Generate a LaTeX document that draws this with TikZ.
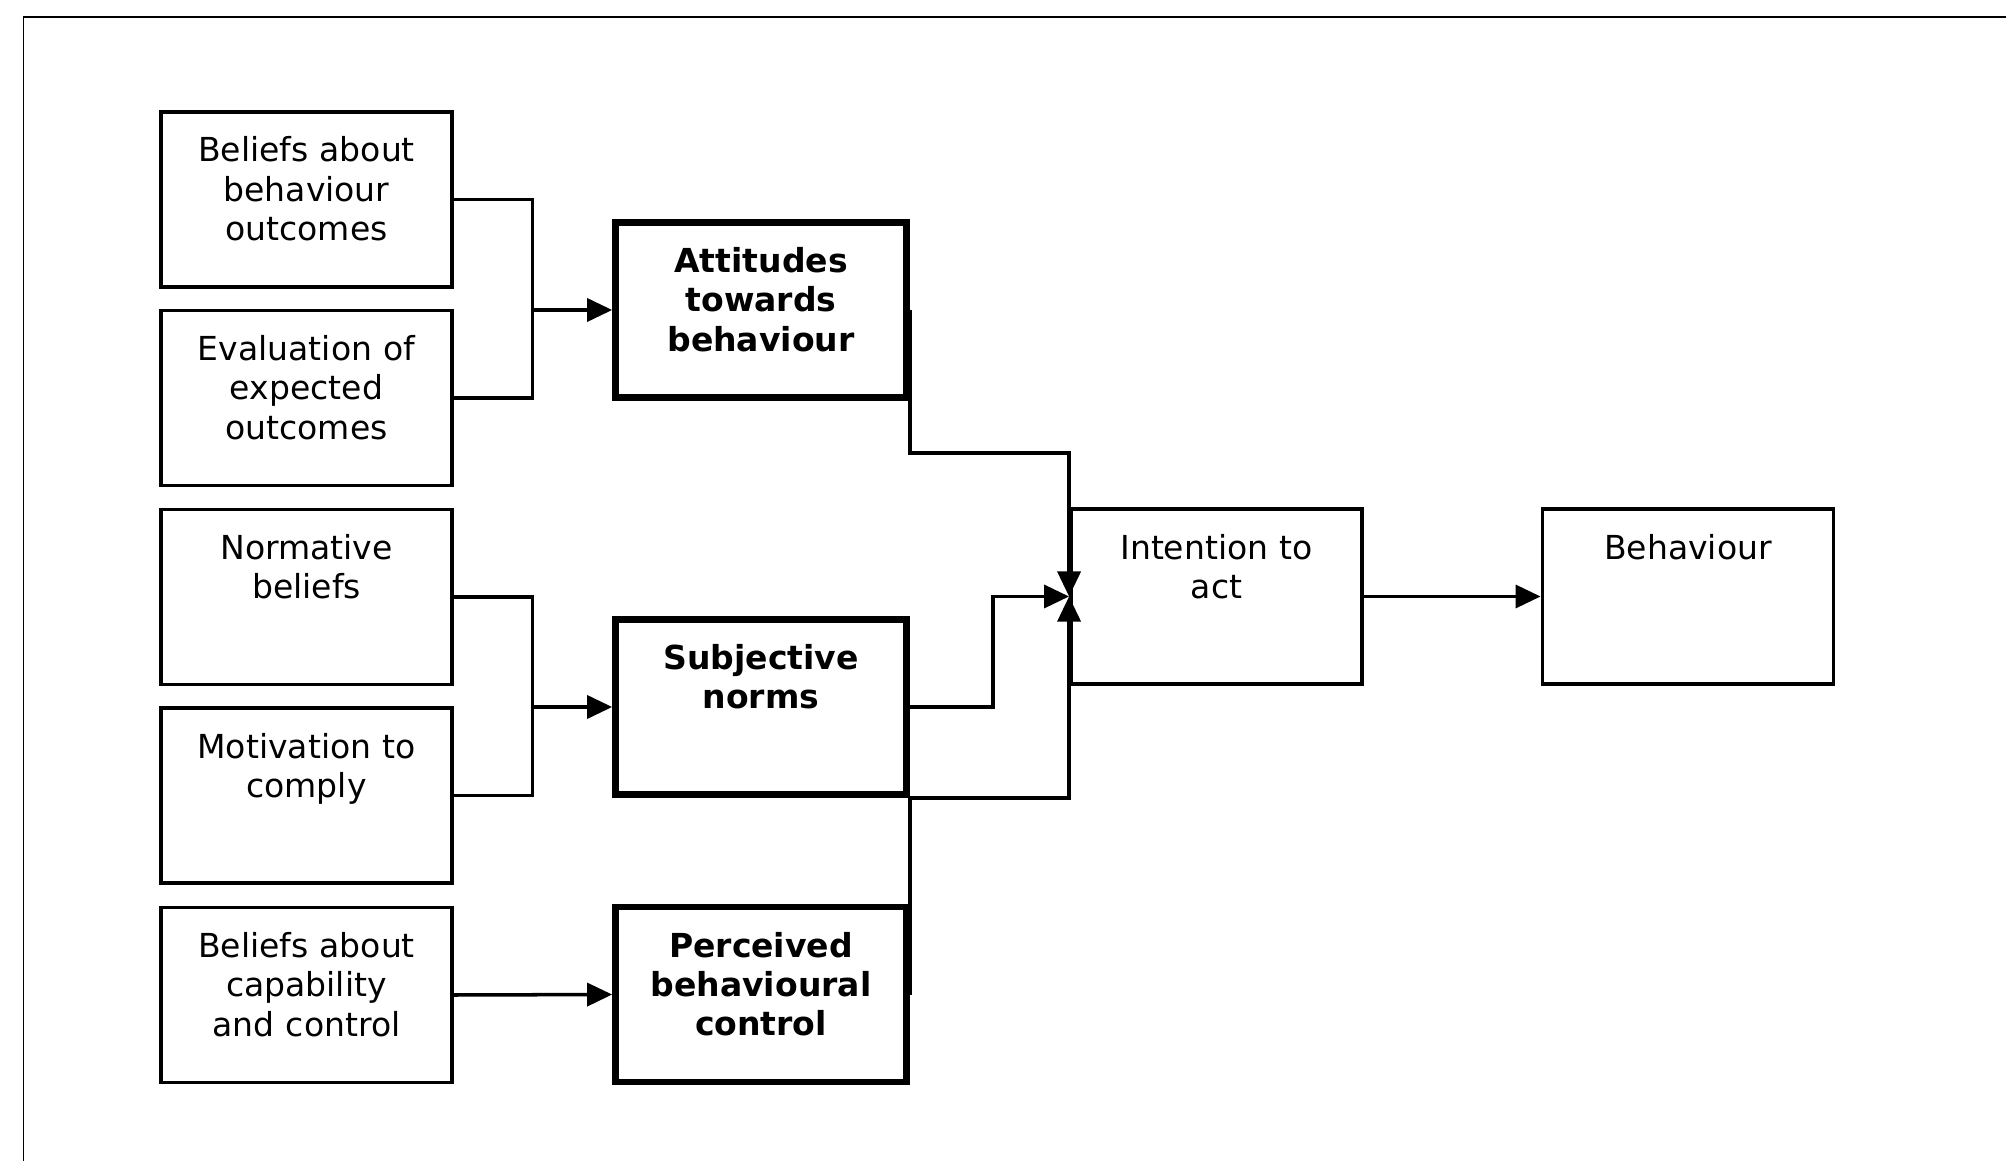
\documentclass[tikz,border=0pt]{standalone}
\usepackage{fontspec}
\setmainfont{DejaVu Sans}
\usetikzlibrary{arrows.meta}
\begin{document}
\begin{tikzpicture}[
                tpbBox/.style={draw=black,line width=1.1pt,inner sep=0pt,
                               text width=2.91cm,align=center,
                               text height=0.50cm,text depth=1.25cm},
                tpbCore/.style={tpbBox,line width=1.9pt,font=\tpbfont\bfseries},
                tpbLink/.style={draw=black,line width=1pt},
                tpbArrow/.style={tpbLink,-{Triangle[length=0.25cm,width=0.23cm]}},
                tpbFrame/.style={draw=black,line width=0.55pt},
                every node/.style={font=\tpbfont}]
                \providecommand{\tpbfont}{\fontsize{9.4}{11.2}\selectfont}
                \useasboundingbox (0,0) rectangle (20.06,-11.61);
                \draw[tpbFrame] (0.235,-11.61) -- (0.235,-0.173) -- (20.06,-0.173);

                % Belief boxes on the left.
                \node[tpbBox] (bOut) at (3.065,-1.993) {Beliefs about\\behaviour\\outcomes};
                \node[tpbBox] (evalOut) at (3.065,-3.98) {Evaluation of\\expected\\outcomes};
                \node[tpbBox] (normB) at (3.065,-5.97) {Normative\\beliefs};
                \node[tpbBox] (motiv) at (3.065,-7.955) {Motivation to\\comply};
                \node[tpbBox] (capab) at (3.065,-9.95) {Beliefs about\\capability\\and control};

                % The three constructs.
                \node[tpbCore] (att) at (7.61,-3.10) {Attitudes\\towards\\behaviour};
                \node[tpbCore] (sub) at (7.61,-7.07) {Subjective\\norms};
                \node[tpbCore] (pbc) at (7.61,-9.945) {Perceived\\behavioural\\control};

                % Intention and behaviour.
                \node[tpbBox] (int) at (12.165,-5.965) {Intention to\\act};
                \node[tpbBox] (beh) at (16.88,-5.965) {Behaviour};

                % Beliefs merge into the constructs.
                \coordinate (jAtt) at (5.327,-3.10);
                \coordinate (jSub) at (5.327,-7.07);
                \draw[tpbLink] (bOut.east) -| (jAtt) |- (evalOut.east);
                \draw[tpbArrow] (jAtt) -- (att.west);
                \draw[tpbLink] (normB.east) -| (jSub) |- (motiv.east);
                \draw[tpbArrow] (jSub) -- (sub.west);
                \draw[tpbArrow] (capab.east) -- (pbc.west);

                % Constructs converge on intention.
                \draw[tpbArrow] (att.east) -- ++(0,-1.43) -| (int.west);
                \draw[tpbArrow] (sub.east) -- ++(0.83,0) |- (int.west);
                \draw[tpbArrow] (pbc.east) -- (pbc.east |- sub.south) -| (int.west);
                \draw[tpbArrow] (int.east) -- (beh.west);

            \end{tikzpicture}
\end{document}
